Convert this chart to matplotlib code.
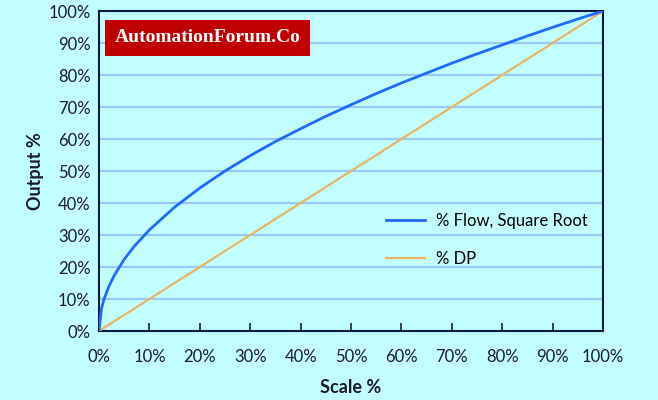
import matplotlib
matplotlib.use('Agg')
import matplotlib.pyplot as plt

# values
scale = [0, 0.5, 1, 2, 3, 5, 7, 10, 15, 20, 25, 30, 35, 40, 45, 50, 55,
         60, 65, 70, 75, 80, 85, 90, 95, 100]
flow = [0, 7.1, 10, 14.1, 17.3, 22.4, 26.5, 31.6, 38.7, 44.7, 50, 54.8,
        59.2, 63.2, 67.1, 70.7, 74.2, 77.5, 80.6, 83.7, 86.6, 89.4, 92.2,
        94.9, 97.5, 100]
dp_x = [0, 100]
dp_y = [0, 100]
ticks = list(range(0, 101, 10))
tick_labels = ['%d%%' % t for t in ticks]

bg = '#c2fefe'
plt.rcParams['font.family'] = ['Lato', 'DejaVu Sans']

fig = plt.figure(figsize=(6.58, 4.0), dpi=100, facecolor=bg)
ax = fig.add_axes([0.1505, 0.1725, 0.766, 0.80])
ax.set_facecolor(bg)

for t in ticks[1:-1]:
    ax.axhline(t, color='#9cc8f8', lw=1.6, zorder=1)

ax.plot(dp_x, dp_y, color='#e8b464', lw=1.6, label='% DP', zorder=3)
ax.plot(scale, flow, color='#1e6cff', lw=2.0, label='% Flow, Square Root', zorder=4)

ax.set_xlim(0, 100)
ax.set_ylim(0, 100)
ax.set_xticks(ticks)
ax.set_xticklabels(tick_labels, fontsize=12, color='#1a1a2a')
ax.set_yticks(ticks)
ax.set_yticklabels(tick_labels, fontsize=12, color='#1a1a2a')
ax.tick_params(axis='x', direction='in', length=6, width=1.2, color='#222222', pad=13)
ax.tick_params(axis='y', length=0, pad=6)
for s in ax.spines.values():
    s.set_color('#0a1a40')
    s.set_linewidth(1.5)

ax.set_xlabel('Scale %', fontsize=13, fontweight='bold', color='#1a1a2a', labelpad=10)
ax.set_ylabel('Output %', fontsize=13, fontweight='bold', color='#1a1a2a', labelpad=3)

h, l = ax.get_legend_handles_labels()
ax.legend(h[::-1], l[::-1], loc='center right', bbox_to_anchor=(1.0, 0.285),
          frameon=False, fontsize=12, handlelength=2.3, handletextpad=0.7,
          labelspacing=1.3)

fig.text(0.174, 0.905, 'AutomationForum.Co', family='Liberation Serif',
         fontweight='bold', fontsize=14, color='white', va='center', ha='left',
         bbox=dict(boxstyle='square,pad=0.5', fc='#c00000', ec='none'))

fig.savefig('out.png', dpi=100, facecolor=bg)
